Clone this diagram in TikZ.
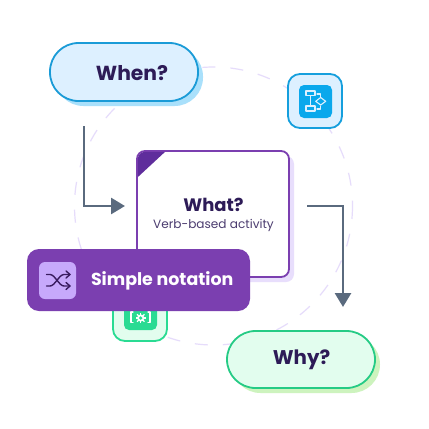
\documentclass[tikz,border=0pt]{standalone}
\usepackage{fontspec}
\setmainfont{Poppins}
\usetikzlibrary{arrows.meta}
\definecolor{ink}{HTML}{2D1B57}
\definecolor{arrowgrey}{HTML}{5A6A7E}
\definecolor{ringlilac}{HTML}{E6DCFB}
\definecolor{skyfill}{HTML}{DDF0FF}
\definecolor{skyline}{HTML}{1A9BD7}
\definecolor{skyshade}{HTML}{A9E0FB}
\definecolor{skyicon}{HTML}{0AA8EC}
\definecolor{mintfill}{HTML}{E2FDEE}
\definecolor{mintline}{HTML}{25CB85}
\definecolor{mintshade}{HTML}{CDF3BE}
\definecolor{minticon}{HTML}{2ADB93}
\definecolor{plum}{HTML}{7B3FB0}
\definecolor{plumdark}{HTML}{5F2D9C}
\definecolor{plumshade}{HTML}{E8DEFC}
\definecolor{plumicon}{HTML}{C7A9FB}
\tikzset{
  pill/.style={rounded corners=28.5, line width=1.8},
  tile/.style={rounded corners=12, line width=1.8},
  flow/.style={line width=2.8, draw=arrowgrey, -{Triangle[length=14,width=16]}},
  glyph/.style={line width=1.1, line cap=round, line join=round},
}
\begin{document}
\begin{tikzpicture}[x=1pt,y=-1pt]
  \useasboundingbox (0,0) rectangle (429,429);
  \fill[white] (0,0) rectangle (429,429);

  % ring behind everything
  \draw[ringlilac, line width=1.2, dash pattern=on 13 off 15] (213.5,206) circle (139);

  % when
  \fill[skyshade, rounded corners=28.5] (55,48) rectangle (203,106);
  \draw[pill, fill=skyfill, draw=skyline] (50,43) rectangle (198,101);
  \node[font=\fontsize{20.3}{22}\selectfont\bfseries, text=ink] (when) at (132,73) {When?};

  % why
  \fill[mintshade, rounded corners=28.5] (232,336) rectangle (380,393);
  \draw[pill, fill=mintfill, draw=mintline] (227,331) rectangle (375,388);
  \node[font=\fontsize{19.8}{22}\selectfont\bfseries, text=ink] (why) at (301.5,360) {Why?};

  % what card
  \fill[plumshade, rounded corners=8] (142,156) rectangle (294,282);
  \draw[line width=1.8, draw=plum, fill=white, rounded corners=8] (137,151) rectangle (289,277);
  \fill[plumdark] (137.9,177) -- (137.9,159) .. controls (137.9,155) and (141,151.9) .. (145,151.9) -- (165,151.9) -- cycle;
  \node[font=\fontsize{18}{20}\selectfont\bfseries, text=ink] (what) at (213.5,205) {What?};
  \node[font=\fontsize{12.1}{14}\selectfont, text=ink!85] (whatsub) at (213.5,225) {Verb-based activity};

  % arrows
  \coordinate (whenstart) at (84,126);
  \coordinate (whatin) at (125,206);
  \coordinate (whatout) at (307,206);
  \coordinate (whyin) at (343,307);
  \draw[flow] (whenstart) |- (whatin);
  \draw[flow] (whatout) -| (whyin);

  % blue tile
  \draw[tile, fill=skyfill, draw=skyline!70!skyicon] (288,74) rectangle (342,128);
  \fill[skyicon, rounded corners=5] (299,85) rectangle (332,118);
  \begin{scope}[glyph, draw=skyfill]
    \draw (306,91) rectangle (315,95.7);
    \draw (306,106) rectangle (315,111);
    \draw (310.5,95.7) -- (310.5,106);
    \draw (317,94) -- (320.7,94) -- (320.7,96.5);
    \draw (317,109) -- (320.7,109) -- (320.7,106);
    \draw (320.7,97.5) -- (325.7,101.3) -- (320.7,105) -- (315.7,101.3) -- cycle;
  \end{scope}

  % green tile
  \draw[tile, fill=mintfill, draw=minticon] (113,287) rectangle (167,341);
  \fill[minticon, rounded corners=5] (124,297) rectangle (157,330);
  \begin{scope}[glyph, draw=white]
    \draw (133,312) -- (131,312) -- (131,322.5) -- (133,322.5);
    \draw (148,312) -- (150,312) -- (150,322.5) -- (148,322.5);
    \fill[white] (140.7,318) circle (3.6);
    \foreach \a in {0,45,...,315} {
      \draw[line width=1.3, line cap=butt] (140.7,318) -- ++(\a:5.2);
    }
    \fill[minticon] (140.7,318) circle (1.8);
  \end{scope}

  % simple notation
  \fill[plum, rounded corners=12] (27,249) rectangle (250,311);
  \fill[plumicon, rounded corners=6] (39,262) rectangle (76,299);
  \begin{scope}[glyph, draw=plumdark!60!black, line width=1.4]
    \draw (46.5,274.5) -- (50,274.5) .. controls (55,274.5) and (59,286) .. (64,286) -- (70,286);
    \draw (46.5,286) -- (50,286) .. controls (55,286) and (59,274.5) .. (64,274.5) -- (70,274.5);
    \draw (66,271) -- (70,274.5) -- (66,278);
    \draw (66,282.5) -- (70,286) -- (66,289.5);
  \end{scope}
  \node[font=\fontsize{17.4}{20}\selectfont\bfseries, text=white, anchor=west] (notation) at (87.5,281) {Simple notation};
\end{tikzpicture}
\end{document}
